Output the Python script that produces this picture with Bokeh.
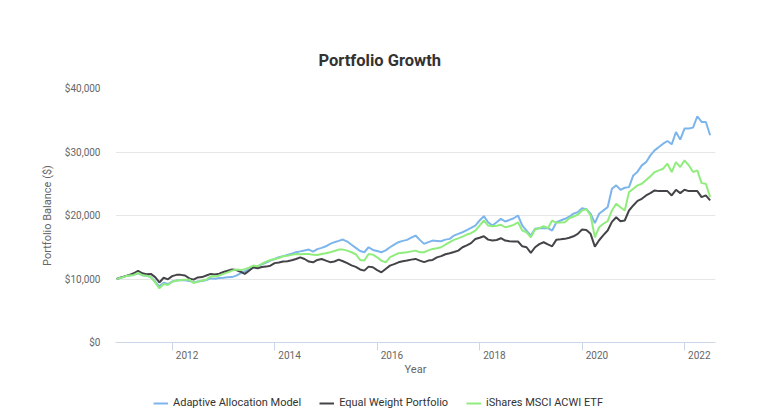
import pandas as pd
from bokeh.plotting import figure
from bokeh.layouts import column
from bokeh.models import (ColumnDataSource, FixedTicker, NumeralTickFormatter,
                          Legend, LegendItem, Range1d)
from bokeh.embed import file_html
from bokeh.resources import INLINE

# ---------------- data ----------------
months = pd.date_range("2010-12-01", "2022-07-01", freq="MS")  # monthly points

adaptive = [
    10000, 10200, 10420, 10550, 10640, 10900, 10600, 10500, 10300, 9600,
    8840, 9400, 9200, 9600, 9750, 9850, 9800, 9700, 9470, 9600,
    9700, 9850, 10100, 10050, 10150, 10200, 10260, 10300, 10530, 10900,
    11200, 11500, 11750, 12000, 12300, 12600, 12900, 13150, 13420, 13600,
    13800, 14000, 14210, 14350, 14500, 14630, 14320, 14700, 14900, 15150,
    15530, 15800, 16000, 16210, 15900, 15400, 14900, 14400, 14210, 15000,
    14580, 14400, 14210, 14500, 15000, 15400, 15790, 16000, 16160, 16500,
    16840, 16160, 15530, 15800, 16050, 16000, 15940, 16200, 16320, 16840,
    17100, 17360, 17700, 18050, 18420, 19210, 19890, 18940, 18420, 18940,
    19480, 19050, 19300, 19570, 20000, 18420, 17630, 16840, 17900, 18000,
    18000, 18000, 17630, 18940, 19210, 19480, 19800, 20300, 20520, 21150,
    21000, 20300, 18790, 20270, 20800, 21310, 24210, 24740, 24050, 24370,
    24470, 26310, 26900, 27890, 28400, 29470, 30260, 30780, 31310, 31730,
    31210, 33150, 31950, 33690, 33700, 33840, 35630, 34730, 34730, 32630,
]

equal_weight = [
    10000, 10250, 10450, 10650, 10900, 11300, 10900, 10750, 10800, 10300,
    9450, 10200, 9950, 10450, 10650, 10650, 10550, 10100, 9900, 10250,
    10300, 10550, 10800, 10700, 10850, 11100, 11300, 11500, 11400, 11150,
    10800, 11300, 11850, 11700, 11900, 11950, 12100, 12500, 12600, 12750,
    12800, 12950, 13150, 13400, 13150, 12750, 12630, 13000, 13150, 12900,
    12650, 12750, 13050, 12800, 12500, 12150, 11900, 11500, 11320, 11950,
    11850, 11400, 11050, 11580, 12100, 12350, 12630, 12800, 12900, 13050,
    13160, 12900, 12650, 12900, 13000, 13400, 13600, 13900, 14050, 14250,
    14470, 15000, 15300, 15650, 16300, 16500, 16730, 16200, 16050, 16150,
    16420, 16050, 15950, 15900, 15900, 15150, 15000, 14100, 15000, 15500,
    15790, 15450, 15150, 16200, 16250, 16320, 16500, 16730, 17110, 17790,
    17700, 17110, 15100, 16100, 16900, 17630, 19000, 19730, 19100, 19210,
    20790, 21580, 22300, 22630, 23160, 23520, 23950, 23840, 23840, 23840,
    23160, 24050, 23520, 24050, 23840, 23840, 23840, 22890, 23160, 22370,
]

acwi = [
    10000, 10200, 10420, 10550, 10640, 10950, 10600, 10530, 10260, 9470,
    8520, 9220, 9060, 9580, 9740, 9850, 9900, 9900, 9380, 9580,
    9750, 9900, 10420, 10450, 10530, 10800, 11050, 11320, 11480, 11400,
    11550, 11800, 12110, 12000, 12400, 12740, 13000, 13160, 13300, 13580,
    13650, 13800, 13950, 13900, 13950, 13950, 13800, 13790, 13950, 14050,
    14210, 14400, 14630, 14630, 14470, 14210, 13900, 13000, 12900, 13950,
    13840, 13420, 12900, 12630, 13420, 13750, 14050, 14150, 14210, 14350,
    14470, 14210, 14210, 14500, 14740, 14850, 15000, 15400, 15790, 16160,
    16400, 16680, 17000, 17210, 17630, 18420, 19210, 18420, 18310, 18400,
    18530, 18150, 18300, 18530, 18940, 17630, 17360, 16570, 17790, 18000,
    18310, 18000, 19210, 18850, 18900, 18940, 19570, 19850, 20110, 20790,
    21000, 20000, 16570, 18150, 18700, 19100, 20790, 21840, 21310, 20790,
    23680, 24210, 24740, 25000, 25600, 26160, 26840, 27100, 27370, 28160,
    26840, 28420, 27630, 28680, 27900, 26840, 27100, 25100, 25000, 22890,
]

series_names = ["Adaptive Allocation Model", "Equal Weight Portfolio", "iShares MSCI ACWI ETF"]
series_colors = ["#7cb5ec", "#434348", "#90ed7d"]
year_ticks = [2012, 2014, 2016, 2018, 2020, 2022]
y_ticks = [0, 10000, 20000, 30000, 40000]

# ---------------- main figure ----------------
t = [d.year + (d.month - 1) / 12.0 for d in months]
src = ColumnDataSource(dict(t=t, a=adaptive, e=equal_weight, w=acwi))

FONT = "Roboto"
p = figure(width=766, height=390, output_backend="svg", toolbar_location=None,
           x_range=Range1d(2010.893, 2022.605), y_range=Range1d(0, 40000),
           min_border_left=115, min_border_right=51, min_border_top=88,
           min_border_bottom=48)
p.outline_line_color = None
p.background_fill_color = "white"
p.border_fill_color = "white"

# title
p.title.text = "Portfolio Growth"
p.title.align = "left"
p.title.offset = 203
p.title.text_font = FONT
p.title.text_font_size = "16.5px"
p.title.text_font_style = "bold"
p.title.text_color = "#333333"
p.title.standoff = 37

# grid
p.xgrid.visible = False
p.ygrid.grid_line_color = "#e6e6e6"
p.ygrid.grid_line_width = 1

# y axis
yax = p.yaxis[0]
yax.ticker = FixedTicker(ticks=y_ticks)
yax.formatter = NumeralTickFormatter(format="$0,0")
yax.axis_line_color = None
yax.major_tick_line_color = None
yax.minor_tick_line_color = None
yax.major_tick_out = 0
yax.major_tick_in = 0
yax.major_label_standoff = 15
yax.major_label_text_font = FONT
yax.major_label_text_font_size = "10px"
yax.major_label_text_color = "#666666"
yax.axis_label = "Portfolio Balance ($)"
yax.axis_label_text_font = FONT
yax.axis_label_text_font_size = "11px"
yax.axis_label_text_font_style = "normal"
yax.axis_label_text_color = "#666666"
yax.axis_label_standoff = 8

# x axis: labels slightly right of the year tick marks (as in reference)
xax = p.xaxis[0]
xax.ticker = FixedTicker(ticks=[y + 0.29 for y in year_ticks], minor_ticks=year_ticks)
xax.formatter = NumeralTickFormatter(format="0")
xax.axis_line_color = "#ccd6eb"
xax.axis_line_width = 1
xax.major_tick_line_color = None
xax.major_tick_out = 0
xax.major_tick_in = 0
xax.minor_tick_line_color = "#ccd6eb"
xax.minor_tick_out = 8
xax.minor_tick_in = 0
xax.major_label_standoff = 0
xax.major_label_text_font = FONT
xax.major_label_text_font_size = "10px"
xax.major_label_text_color = "#666666"
xax.axis_label = "Year"
xax.axis_label_text_font = FONT
xax.axis_label_text_font_size = "11px"
xax.axis_label_text_font_style = "normal"
xax.axis_label_text_color = "#666666"
xax.axis_label_standoff = 1

# lines
p.line("t", "a", source=src, line_color=series_colors[0], line_width=2)
p.line("t", "e", source=src, line_color=series_colors[1], line_width=2)
p.line("t", "w", source=src, line_color=series_colors[2], line_width=2)

# ---------------- legend strip (frame aligned with main plot frame) ----------------
pl = figure(width=766, height=26, output_backend="svg", toolbar_location=None,
            x_axis_type=None, y_axis_type=None,
            x_range=Range1d(0, 1), y_range=Range1d(0, 1),
            min_border_left=0, min_border_right=0, min_border_top=0,
            min_border_bottom=0)
pl.outline_line_color = None
pl.xgrid.visible = False
pl.ygrid.visible = False
items = []
for name, col, key in zip(series_names, series_colors, ["a", "e", "w"]):
    # same series, outside this strip's ranges: only the legend swatch shows
    r = pl.line("t", key, source=src, line_color=col, line_width=2)
    items.append(LegendItem(label=name, renderers=[r]))
legend = Legend(items=items, orientation="horizontal", location=(38, 7),
                glyph_width=15, glyph_height=12, label_height=12,
                label_standoff=5, spacing=18, padding=0, margin=0,
                border_line_color=None, background_fill_alpha=0,
                label_text_font=FONT, label_text_font_size="11px",
                label_text_color="#333333")
pl.add_layout(legend)

layout = column(p, pl, spacing=0)
open("out.html", "w").write(file_html(layout, INLINE))
